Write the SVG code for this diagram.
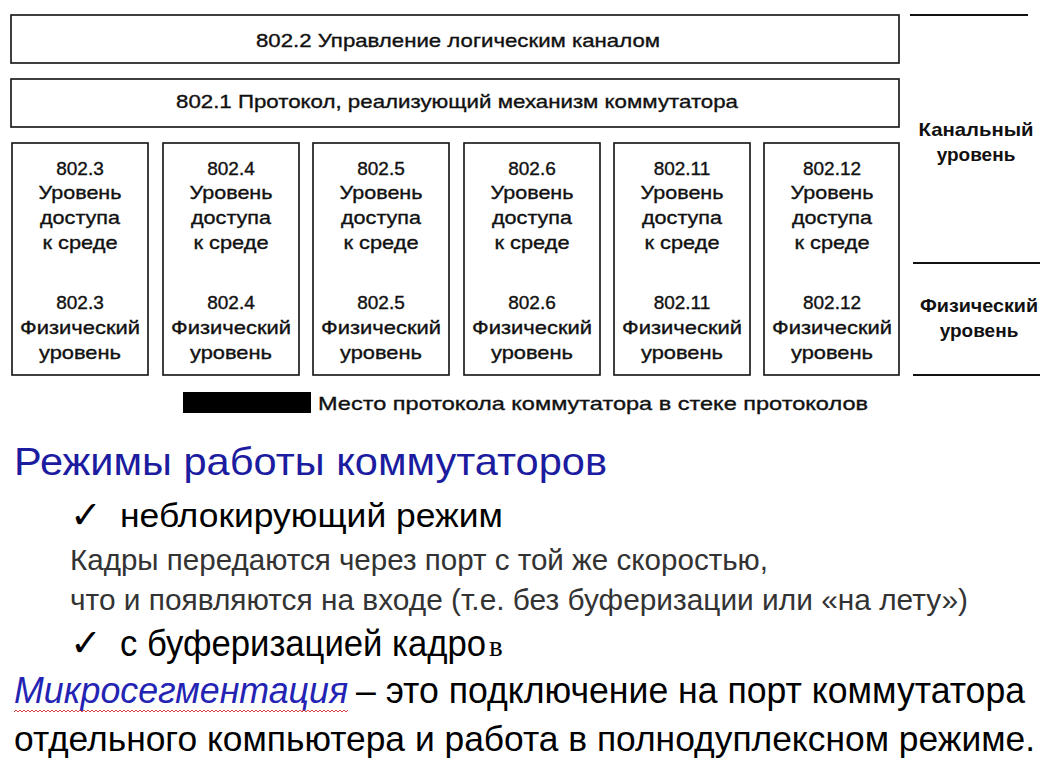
<svg xmlns="http://www.w3.org/2000/svg" width="1054" height="777" viewBox="0 0 1054 777">
<style>
.box{fill:#fff;stroke:#111;stroke-width:1.6}
.bt{font-family:"Liberation Sans",Arial,sans-serif;font-size:19px;fill:#111;stroke:#111;stroke-width:0.35;text-anchor:middle}
.lt{font-family:"Liberation Sans",Arial,sans-serif;font-size:19px;font-weight:bold;fill:#111;text-anchor:middle}
.sep{stroke:#111;stroke-width:1.8}
.ttl{font-family:"Liberation Sans",Arial,sans-serif;font-size:39px;fill:#1c1ca0}
.big{font-family:"Liberation Sans",Arial,sans-serif;font-size:33px;fill:#000}
.nrw{font-family:"Liberation Sans",Arial,sans-serif;font-size:36px;fill:#000}
.nar{font-family:"Liberation Sans",Arial,sans-serif;font-size:30px;fill:#333}
.chk{font-family:"DejaVu Sans",sans-serif;font-size:38px;fill:#000}
</style>
<defs>
<pattern id="wavy" x="14" y="709" width="4" height="4" patternUnits="userSpaceOnUse">
<polyline points="0,3 2,1 4,3" fill="none" stroke="#d03030" stroke-width="0.9"/>
</pattern>
</defs>
<rect width="1054" height="777" fill="#fff"/>

<g id="llc">
<rect class="box" x="11" y="15" width="888" height="48"/>
<text class="bt" x="458" y="47" textLength="404" lengthAdjust="spacingAndGlyphs">802.2 Управление логическим каналом</text>
</g>
<g id="p8021">
<rect class="box" x="11" y="79" width="888" height="48"/>
<text class="bt" x="457" y="108" textLength="562" lengthAdjust="spacingAndGlyphs">802.1 Протокол, реализующий механизм коммутатора</text>
</g>

<g id="c8023">
<rect class="box" x="12" y="143" width="136" height="232"/>
<text class="bt" x="80" y="175">802.3</text>
<text class="bt" x="80" y="199" textLength="83" lengthAdjust="spacingAndGlyphs">Уровень</text>
<text class="bt" x="80" y="224" textLength="80" lengthAdjust="spacingAndGlyphs">доступа</text>
<text class="bt" x="80" y="249" textLength="75" lengthAdjust="spacingAndGlyphs">к среде</text>
<text class="bt" x="80" y="309">802.3</text>
<text class="bt" x="80" y="334" textLength="120" lengthAdjust="spacingAndGlyphs">Физический</text>
<text class="bt" x="80" y="359" textLength="82" lengthAdjust="spacingAndGlyphs">уровень</text>
</g>
<g id="c8024">
<rect class="box" x="163" y="143" width="136" height="232"/>
<text class="bt" x="231" y="175">802.4</text>
<text class="bt" x="231" y="199" textLength="83" lengthAdjust="spacingAndGlyphs">Уровень</text>
<text class="bt" x="231" y="224" textLength="80" lengthAdjust="spacingAndGlyphs">доступа</text>
<text class="bt" x="231" y="249" textLength="75" lengthAdjust="spacingAndGlyphs">к среде</text>
<text class="bt" x="231" y="309">802.4</text>
<text class="bt" x="231" y="334" textLength="120" lengthAdjust="spacingAndGlyphs">Физический</text>
<text class="bt" x="231" y="359" textLength="82" lengthAdjust="spacingAndGlyphs">уровень</text>
</g>
<g id="c8025">
<rect class="box" x="313" y="143" width="136" height="232"/>
<text class="bt" x="381" y="175">802.5</text>
<text class="bt" x="381" y="199" textLength="83" lengthAdjust="spacingAndGlyphs">Уровень</text>
<text class="bt" x="381" y="224" textLength="80" lengthAdjust="spacingAndGlyphs">доступа</text>
<text class="bt" x="381" y="249" textLength="75" lengthAdjust="spacingAndGlyphs">к среде</text>
<text class="bt" x="381" y="309">802.5</text>
<text class="bt" x="381" y="334" textLength="120" lengthAdjust="spacingAndGlyphs">Физический</text>
<text class="bt" x="381" y="359" textLength="82" lengthAdjust="spacingAndGlyphs">уровень</text>
</g>
<g id="c8026">
<rect class="box" x="464" y="143" width="136" height="232"/>
<text class="bt" x="532" y="175">802.6</text>
<text class="bt" x="532" y="199" textLength="83" lengthAdjust="spacingAndGlyphs">Уровень</text>
<text class="bt" x="532" y="224" textLength="80" lengthAdjust="spacingAndGlyphs">доступа</text>
<text class="bt" x="532" y="249" textLength="75" lengthAdjust="spacingAndGlyphs">к среде</text>
<text class="bt" x="532" y="309">802.6</text>
<text class="bt" x="532" y="334" textLength="120" lengthAdjust="spacingAndGlyphs">Физический</text>
<text class="bt" x="532" y="359" textLength="82" lengthAdjust="spacingAndGlyphs">уровень</text>
</g>
<g id="c80211">
<rect class="box" x="614" y="143" width="136" height="232"/>
<text class="bt" x="682" y="175">802.11</text>
<text class="bt" x="682" y="199" textLength="83" lengthAdjust="spacingAndGlyphs">Уровень</text>
<text class="bt" x="682" y="224" textLength="80" lengthAdjust="spacingAndGlyphs">доступа</text>
<text class="bt" x="682" y="249" textLength="75" lengthAdjust="spacingAndGlyphs">к среде</text>
<text class="bt" x="682" y="309">802.11</text>
<text class="bt" x="682" y="334" textLength="120" lengthAdjust="spacingAndGlyphs">Физический</text>
<text class="bt" x="682" y="359" textLength="82" lengthAdjust="spacingAndGlyphs">уровень</text>
</g>
<g id="c80212">
<rect class="box" x="764" y="143" width="135" height="232"/>
<text class="bt" x="832" y="175">802.12</text>
<text class="bt" x="832" y="199" textLength="83" lengthAdjust="spacingAndGlyphs">Уровень</text>
<text class="bt" x="832" y="224" textLength="80" lengthAdjust="spacingAndGlyphs">доступа</text>
<text class="bt" x="832" y="249" textLength="75" lengthAdjust="spacingAndGlyphs">к среде</text>
<text class="bt" x="832" y="309">802.12</text>
<text class="bt" x="832" y="334" textLength="120" lengthAdjust="spacingAndGlyphs">Физический</text>
<text class="bt" x="832" y="359" textLength="82" lengthAdjust="spacingAndGlyphs">уровень</text>
</g>

<g id="layers">
<line class="sep" x1="910" y1="15" x2="1028" y2="15"/>
<text class="lt" x="976" y="136" textLength="115" lengthAdjust="spacingAndGlyphs">Канальный</text>
<text class="lt" x="976" y="161">уровень</text>
<line class="sep" x1="913" y1="263" x2="1040" y2="263"/>
<text class="lt" x="979" y="312" textLength="118" lengthAdjust="spacingAndGlyphs">Физический</text>
<text class="lt" x="979" y="337">уровень</text>
<line class="sep" x1="913" y1="375" x2="1040" y2="375"/>
</g>

<g id="legend">
<rect x="183" y="392" width="128" height="21" fill="#000"/>
<text class="bt" x="318" y="410" style="text-anchor:start" textLength="550" lengthAdjust="spacingAndGlyphs">Место протокола коммутатора в стеке протоколов</text>
</g>

<g id="slide">
<text class="ttl" x="14" y="475" textLength="593" lengthAdjust="spacingAndGlyphs">Режимы работы коммутаторов</text>
<text class="chk" x="70" y="528">✓</text>
<text class="big" x="120" y="527" textLength="383" lengthAdjust="spacingAndGlyphs">неблокирующий режим</text>
<text class="nar" x="70" y="570" textLength="698" lengthAdjust="spacingAndGlyphs">Кадры передаются через порт с той же скоростью,</text>
<text class="nar" x="70" y="610" textLength="898" lengthAdjust="spacingAndGlyphs">что и появляются на входе (т.е. без буферизации или «на лету»)</text>
<text class="chk" x="70" y="656">✓</text>
<text class="nrw" x="120" y="656"><tspan textLength="366" lengthAdjust="spacingAndGlyphs">с буферизацией кадро</tspan><tspan dx="3" style="font-family:'Liberation Serif','Times New Roman',serif;font-size:29px">в</tspan></text>
<text x="14" y="703" style="font-family:'Liberation Sans',Arial,sans-serif;font-size:36px;font-style:italic;fill:#2424b4" textLength="334" lengthAdjust="spacingAndGlyphs">Микросегментация</text>
<rect x="14" y="709" width="334" height="4" fill="url(#wavy)"/>
<text class="nrw" x="356" y="703" textLength="669" lengthAdjust="spacingAndGlyphs">– это подключение на порт коммутатора</text>
<text class="nrw" x="14" y="751" style="font-size:35px" textLength="1021" lengthAdjust="spacingAndGlyphs">отдельного компьютера и работа в полнодуплексном режиме.</text>
</g>
</svg>
